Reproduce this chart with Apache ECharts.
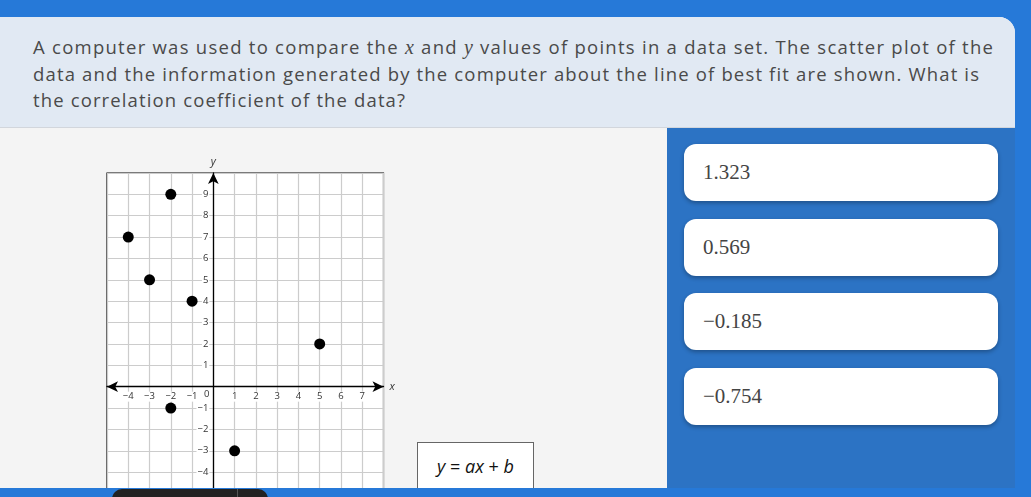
<!DOCTYPE html>
<html><head><meta charset="utf-8">
<script src="https://cdn.jsdelivr.net/npm/echarts@6/dist/echarts.min.js"></script>
<style>
html,body{margin:0;padding:0;}
body{width:1031px;height:497px;background:#2679d8;position:relative;overflow:hidden;font-family:"Open Sans","Noto Sans",sans-serif;}
#card{position:absolute;left:0;top:17px;width:1015px;height:471px;border-top-right-radius:16px;overflow:hidden;background:#f4f4f4;}
#q{position:absolute;left:0;top:0;width:1015px;height:111px;background:#e1e9f3;border-bottom:1px solid #d2d6dc;box-sizing:border-box;}
#qt{position:absolute;left:33px;top:17px;color:#4a4a4a;font-size:18.5px;line-height:26.5px;white-space:nowrap;}
#qt .ln{display:inline-block;}
.mi{font-family:"Liberation Serif","DejaVu Serif",serif;font-style:italic;font-size:20px;}
#right{position:absolute;left:667px;top:111px;width:348px;height:360px;background:#2c73c4;}
.ans{position:absolute;left:17px;width:314px;height:57px;background:#fff;border-radius:12px;box-shadow:0 2px 4px rgba(0,0,0,0.3);}
.ans span{position:absolute;left:19px;top:0;line-height:56px;font-family:"Liberation Serif","DejaVu Serif",serif;font-size:21px;color:#444;}
#chart{position:absolute;left:0;top:111px;width:667px;height:369px;}
#eq{position:absolute;left:417px;top:425px;width:117px;height:60px;background:#fff;border:1px solid #666;box-sizing:border-box;font-family:"Open Sans","DejaVu Sans",sans-serif;font-size:18px;color:#111;text-align:center;line-height:47px;}
#eq i{font-style:italic;}
#bar{position:absolute;left:112px;top:489px;width:156px;height:20px;background:#222;border-radius:10px 10px 0 0;}
#bar div{position:absolute;left:125px;top:0;width:1px;height:10px;background:#555;}
</style></head>
<body>
<div id="card">
  <div id="q"><div id="qt">
    <span class="ln" data-w="960">A computer was used to compare the <span class="mi">x</span> and <span class="mi">y</span> values of points in a data set. The scatter plot of the</span><br>
    <span class="ln" data-w="946">data and the information generated by the computer about the line of best fit are shown. What is</span><br>
    <span class="ln" data-w="372">the correlation coefficient of the data?</span>
  </div></div>
  <div id="chart"></div>
  <div id="eq"><i>y</i> = <i>ax</i> + <i>b</i></div>
  <div id="right"></div>
</div>
<div id="bar"><div></div></div>
<script>
// ---- data ----
const answers = ["1.323", "0.569", "\u22120.185", "\u22120.754"];
const pointsX = [-4, -3, -2, -1, -2, 1, 5];
const pointsY = [7, 5, 9, 4, -1, -3, 2];
const xTickLabels = [-4, -3, -2, -1, 1, 2, 3, 4, 5, 6, 7];
const yTickLabels = [9, 8, 7, 6, 5, 4, 3, 2, 1, -1, -2, -3, -4];
const xRange = [-5, 8];
const yRange = [-5, 10];

// answers
const right = document.getElementById('right');
answers.forEach((a, i) => {
  const d = document.createElement('div');
  d.className = 'ans';
  d.style.top = (16 + i * 74.5) + 'px';
  d.innerHTML = '<span>' + a + '</span>';
  right.appendChild(d);
});

// fit question lines
document.querySelectorAll('#qt .ln').forEach(el => {
  const target = +el.dataset.w;
  const w = el.getBoundingClientRect().width;
  const n = el.textContent.length;
  el.style.letterSpacing = ((target - w) / (n - 1)) + 'px';
});

const fmtNum = v => String(v).replace('-', '\u2212');
const chart = echarts.init(document.getElementById('chart'));
const pts = pointsX.map((x, i) => [x, pointsY[i]]);
const labelFont = {fontFamily: '"Open Sans","DejaVu Sans",sans-serif', fontSize: 9.5, color: '#333'};
const G = {left: 107, top: 45, width: 276.5, height: 320.5};
const option = {
  animation: false,
  grid: Object.assign({show: true, backgroundColor: '#fff', borderColor: '#000', borderWidth: 1.2, containLabel: false, outerBoundsMode: 'none'}, G),
  xAxis: {
    type: 'value', min: xRange[0], max: xRange[1], interval: 1, position: 'bottom', offset: 0,
    name: 'x', nameLocation: 'end', nameGap: 6,
    nameTextStyle: {fontStyle: 'italic', fontSize: 11, color: '#333', fontFamily: '"Open Sans","DejaVu Sans",sans-serif'},
    axisLine: {onZero: false, lineStyle: {color: '#000', width: 1.3}, symbol: ['arrow', 'arrow'], symbolSize: [8, 11]},
    axisTick: {show: false},
    splitLine: {show: true, lineStyle: {color: '#cccccc', width: 1.2}},
    axisLabel: Object.assign({margin: 5, backgroundColor: '#fff', padding: [0, 1],
      formatter: v => xTickLabels.includes(v) ? fmtNum(v) : ''}, labelFont)
  },
  yAxis: {
    type: 'value', min: yRange[0], max: yRange[1], interval: 1, position: 'left', offset: 0,
    name: 'y', nameLocation: 'end', nameGap: 6,
    nameTextStyle: {fontStyle: 'italic', fontSize: 11, color: '#333', fontFamily: '"Open Sans","DejaVu Sans",sans-serif'},
    axisLine: {onZero: false, lineStyle: {color: '#000', width: 1.3}, symbol: ['none', 'arrow'], symbolSize: [8, 11]},
    axisTick: {show: false},
    splitLine: {show: true, lineStyle: {color: '#cccccc', width: 1.2}},
    axisLabel: Object.assign({margin: 4,
      formatter: v => v === 0 ? '{z|0}' : (yTickLabels.includes(v) ? '{n|' + fmtNum(v) + '}' : ''),
      rich: {
        n: Object.assign({backgroundColor: '#fff', padding: [1, 1]}, labelFont),
        z: Object.assign({padding: [15, 0, 0, 0]}, labelFont)
      }}, labelFont)
  },
  series: [{
    type: 'scatter', data: pts, symbolSize: 11,
    itemStyle: {color: '#000', opacity: 1}
  }]
};
chart.setOption(option);
// move the axes so they cross at the origin (using the library's own scale)
const origin = chart.convertToPixel({gridIndex: 0}, [0, 0]);
chart.setOption({
  xAxis: {offset: -((G.top + G.height) - origin[1])},
  yAxis: {offset: -(origin[0] - G.left)}
});
</script>
</body></html>
